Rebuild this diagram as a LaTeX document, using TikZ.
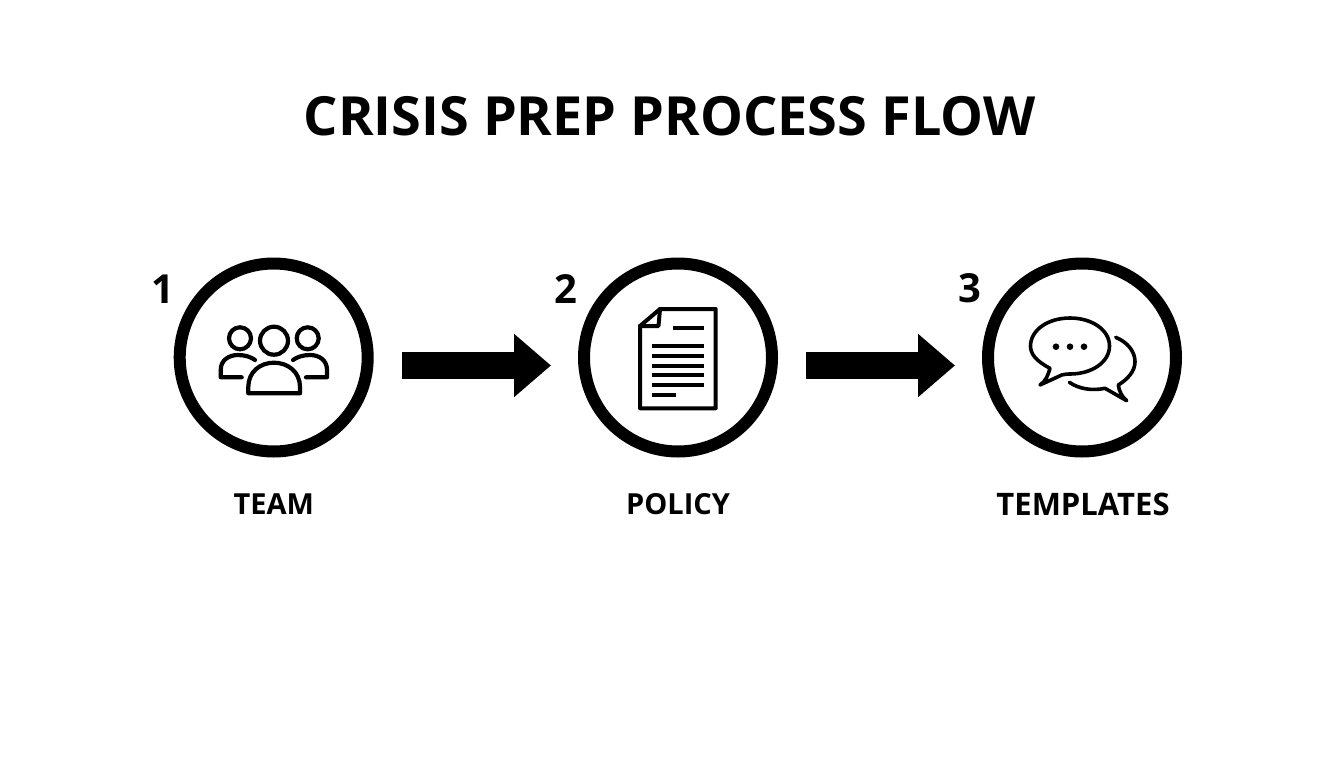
\documentclass[tikz,border=0pt]{standalone}
\usepackage{fontspec}
\setmainfont{Open Sans}
\usetikzlibrary{arrows.meta}
\tikzset{
  stepcircle/.style={circle,draw=black,line width=12pt,minimum size=188pt,inner sep=0pt},
  titletext/.style={font=\bfseries\fontsize{54}{54}\selectfont,text=black,inner sep=0pt},
  labeltext/.style={font=\bfseries\fontsize{29}{29}\selectfont,text=black,inner sep=0pt},
  numtext/.style={font=\bfseries\fontsize{40}{40}\selectfont,text=black,inner sep=0pt},
  flowarrow/.style={line width=27pt,draw=black,-{Triangle[length=37pt,width=61pt]}},
  icon/.style={draw=black,line width=4.2pt,line join=round,line cap=round},
  docline/.style={draw=black,line width=4.3pt}
}
\begin{document}
\begin{tikzpicture}[x=1pt,y=-1pt]
\useasboundingbox (0,0) rectangle (1344,768);
\fill[white] (0,0) rectangle (1344,768);
\node[titletext] (title) at (669.5,116) {CRISIS PREP PROCESS FLOW};
\node[stepcircle] (c1) at (273.7,357.5) {};
\node[stepcircle] (c2) at (678,357.5) {};
\node[stepcircle] (c3) at (1082,357.5) {};
\node[numtext] (n1) at (163,289) {1};
\node[numtext] (n2) at (566,289) {2};
\node[numtext] (n3) at (970,288) {3};
\node[labeltext] (l1) at (273.7,504) {TEAM};
\node[labeltext] (l2) at (678,504) {POLICY};
\node[labeltext,font=\bfseries\fontsize{31}{31}\selectfont] (l3) at (1083,504) {TEMPLATES};
\draw[flowarrow] ([xshift=28.3pt,yshift=-8pt]c1.east) -- ([xshift=-27pt,yshift=-8pt]c2.west);
\draw[flowarrow] ([xshift=28pt,yshift=-8pt]c2.east) -- ([xshift=-27pt,yshift=-8pt]c3.west);
% team icon
\draw[icon] (240,338.3) circle (11);
\draw[icon] (307.7,338.3) circle (11);
\draw[icon] (274,340.7) circle (14);
\draw[icon] (248.3,393.3) -- (248.3,387) .. controls (248.3,372) and (260,362.7) .. (274,362.7) .. controls (288,362.7) and (300,372) .. (300,387) -- (300,393.3) -- cycle;
\draw[icon] (241.7,377.3) -- (220.7,377.3) -- (220.7,370) .. controls (220.7,360) and (229,355) .. (238,355) .. controls (245,355) and (251,357) .. (255,360);
\draw[icon] (306,377.3) -- (327,377.3) -- (327,370) .. controls (327,360) and (319,355) .. (310,355) .. controls (303,355) and (297,357) .. (293,360);
% document icon
\draw[icon,line width=4pt,line cap=butt,miter limit=4] (660,309) -- (715.7,309) -- (715.7,408.3) -- (640,408.3) -- (640,326) -- cycle;
\draw[icon,line width=4pt] (660,309) -- (658.5,326) -- (640,326);
\foreach \yy in {346.3,356,365.7,375.3,385}{\draw[docline] (651.7,\yy) -- (704.3,\yy);}
\draw[docline] (672.7,328.3) -- (704.3,328.3);
\draw[docline] (651.7,395) -- (676,395);
% chat icon
\draw[icon,line width=3.6pt] (1050,368.3) .. controls (1036,361) and (1030.5,354) .. (1030.5,346) .. controls (1030.5,330) and (1048,318) .. (1070,318) .. controls (1092,318) and (1109.5,330) .. (1109.5,346) .. controls (1109.5,362) and (1092,374) .. (1070,374) .. controls (1066,374) and (1064,374.5) .. (1061.7,375) -- (1040,385) .. controls (1046,381) and (1048,375) .. (1050,368.3) -- cycle;
\draw[icon,line width=3.6pt] (1115.7,337.3) .. controls (1127,342) and (1135,351) .. (1135,361.7) .. controls (1135,371) and (1128,379) .. (1118.3,385) .. controls (1119,391) and (1122,397) .. (1126.7,400.7) -- (1105,388.3) .. controls (1092,391) and (1079,389) .. (1069.3,382.3);
\foreach \xx in {1056,1070,1084}{\fill[black] (\xx,346.7) circle (3.3);}
\end{tikzpicture}
\end{document}
